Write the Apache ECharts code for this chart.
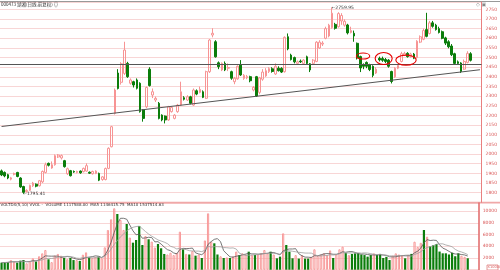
<!DOCTYPE html>
<html><head><meta charset="utf-8">
<script src="https://cdn.jsdelivr.net/npm/echarts@6/dist/echarts.min.js"></script>
<style>html,body{margin:0;padding:0;background:#fff}#c{width:500px;height:270px}</style>
</head><body><div id="c"></div>
<script>
// ---- data (daily candles, oldest first) ----
const opens = [1913,1905,1893,1870,1896,1905,1876,1832,1806,1812,1836,1844,1836,1856,1905,1952,1928,1945,1985,1980,
1966,1898,1914,1910,1905,1912,1909,1912,1906,1898,1900,1900,1868,1868,1926,2038,2211,2420,2372,2418,
2470,2367,2375,2384,2367,2228,2245,2440,2306,2280,2263,2202,2197,2177,2220,2185,2220,2254,2292,2280,
2297,2254,2328,2320,2323,2289,2427,2617,2582,2473,2436,2470,2445,2427,2375,2390,2461,2392,2395,2401,
2332,2401,2320,2388,2405,2428,2442,2415,2445,2444,2427,2608,2513,2500,2470,2482,2470,2504,2468,2470,
2480,2550,2570,2600,2612,2655,2672,2660,2690,2668,2669,2630,2626,2574,2505,2462,2475,2462,2455,2420,
2496,2495,2490,2487,2428,2400,2445,2480,2512,2522,2505,2518,2500,2580,2595,2645,2625,2680,2668,2650,
2634,2602,2582,2560,2520,2478,2472,2440,2475,2520];
const closes = [1892,1887,1876,1877,1898,1884,1830,1802,1812,1838,1850,1834,1862,1910,1945,1942,1945,1992,1995,1992,
1935,1924,1888,1907,1910,1903,1926,1940,1901,1910,1912,1865,1882,1925,2030,2142,2332,2340,2468,2539,
2401,2384,2358,2341,2220,2185,2345,2355,2323,2289,2185,2177,2177,2245,2242,2202,2254,2323,2284,2297,
2263,2332,2311,2335,2294,2427,2591,2626,2504,2453,2470,2436,2448,2393,2393,2455,2410,2408,2402,2380,
2346,2301,2395,2425,2432,2443,2428,2455,2432,2425,2605,2545,2490,2478,2478,2478,2487,2470,2436,2487,
2580,2580,2575,2650,2668,2730,2652,2728,2718,2688,2628,2640,2612,2498,2446,2455,2455,2438,2408,2440,
2488,2486,2480,2455,2376,2445,2460,2520,2522,2505,2518,2497,2585,2608,2640,2610,2680,2662,2645,2630,
2600,2575,2556,2515,2470,2470,2428,2480,2522,2486];
const lows = [1886,1880,1870,1864,1890,1880,1825,1795.41,1800,1808,1830,1828,1832,1850,1900,1936,1924,1940,1980,1972,
1930,1892,1884,1903,1900,1898,1905,1908,1897,1894,1896,1860,1862,1864,1922,2035,2205,2335,2360,2410,
2395,2360,2345,2335,2215,2168,2238,2350,2290,2270,2180,2170,2159,2172,2215,2180,2214,2250,2278,2275,
2258,2250,2305,2315,2290,2285,2420,2605,2500,2440,2430,2430,2430,2385,2362,2385,2405,2385,2388,2372,
2325,2296,2310,2380,2400,2420,2422,2410,2428,2420,2422,2538,2485,2470,2465,2472,2465,2465,2425,2465,
2476,2545,2560,2595,2605,2650,2645,2655,2670,2660,2620,2625,2582,2490,2425,2440,2445,2430,2398,2415,
2480,2478,2472,2448,2366,2395,2440,2475,2508,2500,2500,2492,2495,2575,2590,2605,2620,2655,2640,2625,
2595,2565,2548,2508,2462,2462,2420,2436,2470,2480];
const highs = [1920,1910,1898,1882,1904,1908,1880,1836,1818,1842,1856,1848,1866,1915,1956,1956,1962,1998,2000,1998,
1970,1930,1918,1915,1914,1915,1930,1952,1910,1914,1916,1904,1886,1930,2035,2146,2340,2440,2476,2582,
2478,2392,2380,2392,2372,2232,2350,2450,2340,2298,2270,2206,2200,2250,2248,2207,2260,2375,2300,2305,
2302,2340,2335,2350,2330,2432,2596,2652,2590,2480,2475,2480,2470,2432,2400,2460,2487,2415,2410,2406,
2352,2405,2400,2440,2445,2450,2450,2470,2455,2450,2610,2625,2520,2505,2485,2490,2492,2510,2472,2492,
2585,2590,2585,2660,2675,2759.95,2680,2735,2730,2698,2675,2660,2640,2578,2510,2470,2480,2468,2460,2450,
2505,2505,2498,2492,2432,2450,2465,2530,2530,2528,2525,2524,2590,2615,2650,2732,2690,2690,2675,2660,
2640,2608,2590,2570,2525,2485,2476,2490,2533,2528];
const volumes = [1200,1250,1300,1660,1350,1200,1540,1650,1100,1500,1950,1400,2300,2800,3370,1780,1300,2400,2700,2400,
2000,1800,2000,1650,1650,1500,2570,2970,2100,2000,2200,2220,1950,3830,6790,8620,10500,9520,8500,6800,
7810,5500,4620,5080,7470,4220,5760,5200,4800,3800,4400,3660,2690,2600,2900,2500,2860,6500,3490,2700,
2600,3200,2400,2600,2000,5000,9640,4800,4510,2600,2300,2000,2100,2000,2300,3100,2500,2800,2600,3080,
2500,2510,2600,2800,3370,2800,3080,2600,1950,2230,6220,4220,3080,1950,2500,1900,2500,1900,1900,2200,
3490,2400,2600,2800,2500,3300,2000,2600,3490,3940,2850,2500,2680,2800,2800,2600,2500,2230,2500,2800,
2500,2700,2000,2200,1650,2400,2800,2600,2500,1950,2500,2700,4790,3900,4600,6790,5650,4000,4200,4390,
3100,2800,2800,2600,2900,2300,2800,2400,2200,1950];
const emptySlotsAtRight = 3;
const categories = opens.map((_, i) => 'd' + (i + 1)).concat(['e1', 'e2', 'e3']);
const priceAxis = { min: 1750, max: 2788, interval: 50 };
const volumeAxis = { min: 0, max: 11400, interval: 2000 };
const highMark = { index: 105, price: 2759.95, text: '←2759.95' };
const lowMark = { index: 7, price: 1795.41, text: '←1795.41' };
const horizontalLevel = 2467;
const trendLine = [[0, 2143], [152, 2437]];
const ellipseCenters = [[114.85, 2508], [121.4, 2495], [128.5, 2487]];
const ellipseRadii = [[6.7, 3], [8.5, 6], [10.2, 5]];
const mainTitle = '000473 湖湘(日线,前复权) ◎';
const volTitle = 'VOLTDX(5,10) VVOL -  VOLUME 1117588.00  MA5 1146415.75  MA10 1537514.63';

// ---- build ----
const ohlc = opens.map((o, i) => [o, closes[i], lows[i], highs[i]]);
const UP = '#f79494', DOWN = '#0b7d0b';
const volData = volumes.map((v, i) => {
  const up = closes[i] >= opens[i];
  return { value: v, itemStyle: up ? { color: 'rgba(255,255,255,0)', borderColor: '#f89a9a', borderWidth: 1 } : { color: DOWN } };
});
function ma(arr, n) {
  return arr.map((_, i) => {
    const s = Math.max(0, i - n + 1);
    let t = 0; for (let k = s; k <= i; k++) t += arr[k];
    return +(t / (i - s + 1)).toFixed(1);
  });
}
const ma5 = ma(volumes, 5), ma10 = ma(volumes, 10);

const chart = echarts.init(document.getElementById('c'), null, { renderer: 'canvas' });
const catAxis = (g) => ({ type: 'category', gridIndex: g, data: categories, boundaryGap: true,
  axisLine: { show: false }, axisTick: { show: false }, axisLabel: { show: false }, splitLine: { show: false } });
const labelFont = { fontSize: 4.5, color: '#d95757', fontFamily: 'DejaVu Sans', margin: 4, formatter: v => String(v) };
chart.setOption({
  animation: false,
  backgroundColor: '#ffffff',
  grid: [
    { left: 0, right: 14.5, top: 2, height: 200.35 },
    { left: 0, right: 14.5, top: 203, height: 66.7 }
  ],
  xAxis: [catAxis(0), catAxis(1)],
  yAxis: [
    { gridIndex: 0, position: 'right', min: priceAxis.min, max: priceAxis.max, interval: priceAxis.interval,
      axisLine: { show: true, lineStyle: { color: '#e98080', width: 1 } }, axisTick: { show: false },
      axisLabel: Object.assign({ showMinLabel: false, showMaxLabel: false }, labelFont),
      splitLine: { show: true, lineStyle: { color: '#f8d6d6', width: 1 } } },
    { gridIndex: 1, position: 'right', min: volumeAxis.min, max: volumeAxis.max, interval: volumeAxis.interval,
      axisLine: { show: true, lineStyle: { color: '#e06666', width: 1.5 } }, axisTick: { show: false },
      axisLabel: Object.assign({ showMinLabel: false, showMaxLabel: false }, labelFont),
      splitLine: { show: true, lineStyle: { color: '#f8d6d6', width: 1 } } }
  ],
  series: [
    { type: 'candlestick', xAxisIndex: 0, yAxisIndex: 0, data: ohlc, barWidth: 2.2,
      itemStyle: { color: 'rgba(255,255,255,0)', color0: DOWN, borderColor: UP, borderColor0: DOWN, borderWidth: 1 },
      markLine: { silent: true, symbol: ['none', 'none'], label: { show: false }, animation: false,
        lineStyle: { color: '#555', width: 1, type: 'solid' },
        data: [
          { yAxis: horizontalLevel },
          [{ coord: trendLine[0] }, { coord: trendLine[1] }]
        ] } },
    { type: 'bar', xAxisIndex: 1, yAxisIndex: 1, data: volData, barWidth: 2.2 },
    { type: 'line', xAxisIndex: 1, yAxisIndex: 1, data: ma5, symbol: 'none', lineStyle: { color: '#555', width: 0.8 } },
    { type: 'line', xAxisIndex: 1, yAxisIndex: 1, data: ma10, symbol: 'none', lineStyle: { color: '#a0a0a0', width: 0.8 } }
  ]
});

function px(idx, price) {
  const f = Math.floor(idx), fr = idx - f;
  const a = chart.convertToPixel({ gridIndex: 0 }, [f, price]);
  if (!fr) return a;
  const b = chart.convertToPixel({ gridIndex: 0 }, [f + 1, price]);
  return [a[0] + (b[0] - a[0]) * fr, a[1]];
}
const g = [];
g.push({ type: 'line', shape: { x1: 0, y1: 1.5, x2: 500, y2: 1.5 }, style: { stroke: '#999', lineWidth: 1 }, silent: true });
g.push({ type: 'line', shape: { x1: 0, y1: 202.6, x2: 500, y2: 202.6 }, style: { stroke: '#f0a8a8', lineWidth: 1.6 }, silent: true });
g.push({ type: 'text', left: 1, top: 2.2, style: { text: mainTitle, fontSize: 4.5, fill: '#333', fontFamily: 'Noto Sans CJK SC' } });
g.push({ type: 'text', left: 0.5, top: 203.2, style: { text: volTitle, fontSize: 4, fill: '#333', fontFamily: 'DejaVu Sans' } });
g.push({ type: 'text', left: 476, top: 2.5, style: { text: '◇ ▣', fontSize: 5, fill: '#888', fontFamily: 'DejaVu Sans' } });
g.push({ type: 'rect', shape: { x: 487, y: 265, width: 11, height: 5 }, style: { fill: 'none', stroke: '#e08080', lineWidth: 0.8 } });
g.push({ type: 'text', left: 487.6, top: 265.4, style: { text: 'X10000', fontSize: 3.5, fill: '#d95757', fontFamily: 'DejaVu Sans' } });
[highMark, lowMark].forEach(m => {
  const p = px(m.index, m.price);
  g.push({ type: 'text', x: p[0] - 0.5, y: p[1] + 0.5, style: { text: m.text, fontSize: 4.5, fill: '#333', fontFamily: 'DejaVu Sans', verticalAlign: 'middle', align: 'left' } });
});
ellipseCenters.forEach((c, k) => {
  const p = px(c[0], c[1]);
  g.push({ type: 'ellipse', shape: { cx: p[0], cy: p[1], rx: ellipseRadii[k][0], ry: ellipseRadii[k][1] },
    style: { fill: 'none', stroke: '#e60000', lineWidth: 1.1 }, z: 100 });
});
chart.setOption({ graphic: g });
</script></body></html>
